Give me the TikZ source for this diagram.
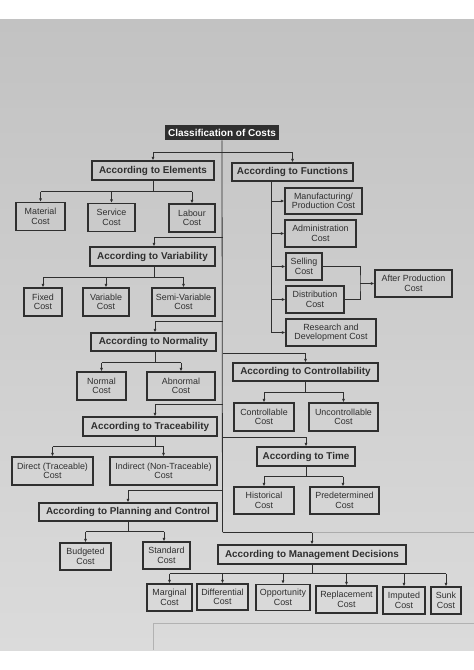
\documentclass[tikz,border=0pt]{standalone}
\usepackage{fontspec}
\setmainfont{Liberation Sans}
\usetikzlibrary{arrows.meta}
\definecolor{pagetop}{HTML}{C2C2C2}
\definecolor{pagebot}{HTML}{DBDBDB}
\definecolor{ink}{HTML}{2F2F2F}

\begin{document}
\begin{tikzpicture}[
        x=1pt, y=-1pt, color=ink,
        >={Latex[length=3.5pt,width=3pt]}, line width=0.8pt,
        headbox/.style={draw, line width=1.2pt, inner sep=0pt, minimum height=19,
                        font=\bfseries\fontsize{9.9}{11}\selectfont},
        costbox/.style={draw, line width=1.2pt, inner sep=0pt, minimum height=28,
                        align=center, font=\fontsize{8.9}{9.5}\selectfont},
    ]
    \useasboundingbox (0,0) rectangle (474,670);
    \fill[white] (0,0) rectangle (474,670);
    \shade[top color=pagetop, bottom color=pagebot] (0,19) rectangle (474,650);

    \node[fill=ink, text=white, inner sep=0pt, minimum width=114, minimum height=15,
          font=\bfseries\fontsize{10}{11}\selectfont] (title) at (222,132.5) {Classification of Costs};

    % left column
    \node[headbox, minimum width=122] (elem) at (153,170.5) {According to Elements};
    \node[costbox, minimum width=49] (material) at (40.5,216.5) {Material\\Cost};
    \node[costbox, minimum width=47] (service) at (111.5,217.5) {Service\\Cost};
    \node[costbox, minimum width=46] (labour) at (192,218) {Labour\\Cost};

    \node[headbox, minimum width=125] (var) at (152.5,256.5) {According to Variability};
    \node[costbox, minimum width=38] (fixed) at (43,302) {Fixed\\Cost};
    \node[costbox, minimum width=46] (variable) at (106,302) {Variable\\Cost};
    \node[costbox, minimum width=63] (semivar) at (183.5,302) {Semi-Variable\\Cost};

    \node[headbox, minimum width=125, minimum height=18] (norm) at (153.5,342) {According to Normality};
    \node[costbox, minimum width=49] (normal) at (101.5,386) {Normal\\Cost};
    \node[costbox, minimum width=68] (abnormal) at (181,386) {Abnormal\\Cost};

    \node[headbox, minimum width=134] (trace) at (150,426.5) {According to Traceability};
    \node[costbox, minimum width=81] (direct) at (52.5,471) {Direct (Traceable)\\Cost};
    \node[costbox, minimum width=107] (indirect) at (163.5,471) {Indirect (Non-Traceable)\\Cost};

    \node[headbox, minimum width=178, minimum height=18] (plan) at (128,512) {According to Planning and Control};
    \node[costbox, minimum width=51, minimum height=27] (budget) at (85.5,556.5) {Budgeted\\Cost};
    \node[costbox, minimum width=47, minimum height=27] (standard) at (166.5,555.5) {Standard\\Cost};

    % right column
    \node[headbox, minimum width=121, minimum height=18] (func) at (292.5,172) {According to Functions};
    \node[costbox, minimum width=77, minimum height=26] (manuf) at (323.5,201) {Manufacturing/\\Production Cost};
    \node[costbox, minimum width=71, minimum height=27] (admin) at (320.5,233.5) {Administration\\Cost};
    \node[costbox, minimum width=36, minimum height=27] (selling) at (304,266.5) {Selling\\Cost};
    \node[costbox, minimum width=58, minimum height=27] (distrib) at (315,299.5) {Distribution\\Cost};
    \node[costbox, minimum width=90, minimum height=27] (research) at (331,332.5) {Research and\\Development Cost};
    \node[costbox, minimum width=77, minimum height=27] (after) at (413.5,283.5) {After Production\\Cost};

    \node[headbox, minimum width=145, minimum height=18] (control) at (305.5,372) {According to Controllability};
    \node[costbox, minimum width=60] (controllable) at (264,417) {Controllable\\Cost};
    \node[costbox, minimum width=69] (uncontrollable) at (343.5,417) {Uncontrollable\\Cost};

    \node[headbox, minimum width=98] (time) at (306,456.5) {According to Time};
    \node[costbox, minimum width=60, minimum height=27] (historical) at (264,500.5) {Historical\\Cost};
    \node[costbox, minimum width=69, minimum height=27] (predet) at (344.5,500.5) {Predetermined\\Cost};

    \node[headbox, minimum width=188] (mgmt) at (312,554.5) {According to Management Decisions};
    \node[costbox, minimum width=45, minimum height=27] (marginal) at (169.5,597.5) {Marginal\\Cost};
    \node[costbox, minimum width=51, minimum height=26] (differential) at (222.5,597) {Differential\\Cost};
    \node[costbox, minimum width=54, minimum height=26] (opportunity) at (283,597.5) {Opportunity\\Cost};
    \node[costbox, minimum width=61, minimum height=27] (replacement) at (346.5,599.5) {Replacement\\Cost};
    \node[costbox, minimum width=42, minimum height=27] (imputed) at (404,600.5) {Imputed\\Cost};
    \node[costbox, minimum width=30, minimum height=27] (sunk) at (446,600.5) {Sunk\\Cost};

    % trunk and its branches
    \foreach \n/\y in {jtop/152, jvar/237, jnorm/321, jtrace/404, jplan/490,
                       jcontrol/353, jtime/437, jmgmt/532}
        \coordinate (\n) at (222.5,\y);
    \draw (title.south) -- (jmgmt);
    \draw[->] (jtop) -| (elem.north);
    \draw[->] (jtop) -| (func.north);
    \draw[->] (jvar) -| ([xshift=1.5]var.north);
    \draw[->] (jnorm) -| ([xshift=1.5]norm.north);
    \draw[->] (jtrace) -| ([xshift=5]trace.north);
    \draw[->] (jplan) -| (plan.north);
    \draw[->] (jcontrol) -| (control.north);
    \draw[->] (jtime) -| (time.north);
    \draw[->] (jmgmt) -| (mgmt.north);
    \draw[gray!65, line width=0.5pt] (mgmt.north |- jmgmt) -- (474,532);

    % forks to the cost boxes
    \draw (elem.south) -- ++(0,11) coordinate (felem);
    \draw (material.north |- felem) -- (labour.north |- felem);
    \foreach \c in {material, service, labour}
        \draw[->] (\c.north |- felem) -- (\c.north);

    \draw ([xshift=1.5]var.south) -- ++(0,11) coordinate (fvar);
    \draw (fixed.north |- fvar) -- (semivar.north |- fvar);
    \foreach \c in {fixed, variable, semivar}
        \draw[->] (\c.north |- fvar) -- (\c.north);

    \draw ([xshift=1.5]norm.south) -- ++(0,11) coordinate (fnorm);
    \draw (normal.north |- fnorm) -- (abnormal.north |- fnorm);
    \foreach \c in {normal, abnormal}
        \draw[->] (\c.north |- fnorm) -- (\c.north);

    \draw ([xshift=5]trace.south) -- ++(0,10) coordinate (ftrace);
    \draw (direct.north |- ftrace) -- (indirect.north |- ftrace);
    \foreach \c in {direct, indirect}
        \draw[->] (\c.north |- ftrace) -- (\c.north);

    \draw (plan.south) -- ++(0,10) coordinate (fplan);
    \draw (budget.north |- fplan) -- ([xshift=-2.5]standard.north |- fplan);
    \draw[->] (budget.north |- fplan) -- (budget.north);
    \draw[->] ([xshift=-2.5]standard.north |- fplan) -- ([xshift=-2.5]standard.north);

    \draw (control.south) -- ++(0,11) coordinate (fcontrol);
    \draw (controllable.north |- fcontrol) -- (uncontrollable.north |- fcontrol);
    \foreach \c in {controllable, uncontrollable}
        \draw[->] (\c.north |- fcontrol) -- (\c.north);

    \draw (time.south) -- ++(0,10) coordinate (ftime);
    \draw (historical.north |- ftime) -- ([xshift=-1.5]predet.north |- ftime);
    \draw[->] (historical.north |- ftime) -- (historical.north);
    \draw[->] ([xshift=-1.5]predet.north |- ftime) -- ([xshift=-1.5]predet.north);

    \draw (mgmt.south) -- ++(0,9) coordinate (fmgmt);
    \draw (marginal.north |- fmgmt) -- (sunk.north |- fmgmt);
    \foreach \c in {marginal, differential, opportunity, replacement, imputed, sunk}
        \draw[->] (\c.north |- fmgmt) -- (\c.north);

    % functions
    \coordinate (fline) at ([xshift=40]func.south west);
    \draw (fline) -- (fline |- research.west);
    \foreach \c in {manuf, admin, selling, distrib, research}
        \draw[->] (fline |- \c.west) -- (\c.west);
    \coordinate (aftbar) at (360,283.5);
    \draw (selling.east) -| (aftbar) |- (distrib.east);
    \draw[->] (aftbar) -- (after.west);

    % edge of the next box on the page
    \draw[gray!60, line width=0.6pt] (474,623) -- (153,623) -- (153,650);
\end{tikzpicture}
\end{document}
